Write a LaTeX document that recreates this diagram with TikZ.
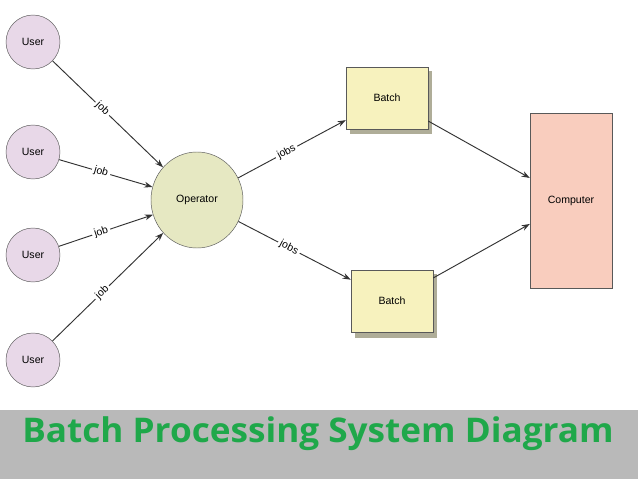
\documentclass[tikz,border=0pt]{standalone}
\usepackage{fontspec}
\setmainfont{Liberation Sans}
\newfontfamily\titlefont{Open Sans}
\usetikzlibrary{shapes.geometric,arrows.meta}
\definecolor{userc}{HTML}{E8D8E8}
\definecolor{opc}{HTML}{E6E8C2}
\definecolor{batchc}{HTML}{F7F2BE}
\definecolor{compc}{HTML}{F9CDBE}
\definecolor{titlec}{HTML}{1FA84A}
\begin{document}
\begin{tikzpicture}[x=0.03cm,y=-0.03cm,
 user/.style={circle,draw=gray!70!black,fill=userc,minimum size=54*0.03cm,inner sep=0,font=\small},
 box/.style={draw=gray!70!black,fill=#1,inner sep=0,font=\small},
 arr/.style={draw=black!80,-{Stealth[length=7pt,width=5pt]},thick},
 lab/.style={fill=white,sloped,inner sep=2pt,font=\small}]
\useasboundingbox (0,0) rectangle (638,479);
\fill[white] (0,0) rectangle (638,410);
\fill[gray!55] (0,410) rectangle (638,479);
\node[font=\titlefont\bfseries,text=titlec,xscale=3.0,yscale=2.9] (title) at (318,434) {Batch Processing System Diagram};
\node[user] (u1) at (33,42) {User};
\node[user] (u2) at (33,152) {User};
\node[user] (u3) at (33,255) {User};
\node[user] (u4) at (33,360) {User};
\node[ellipse,draw=gray!70!black,fill=opc,minimum width=92*0.03cm,minimum height=96*0.03cm,font=\small] (op) at (197,200) {Operator};
\fill[gray!60!batchc] (350,71) -- (432,71) -- (432,134) -- (350,134) -- cycle;
\node[box=batchc,minimum width=82*0.03cm,minimum height=62*0.03cm] (b1) at (387,98) {Batch};
\fill[gray!60!batchc] (355,274) -- (437,274) -- (437,338) -- (355,338) -- cycle;
\node[box=batchc,minimum width=82*0.03cm,minimum height=62*0.03cm] (b2) at (392,301) {Batch};
\node[box=compc,minimum width=82*0.03cm,minimum height=175*0.03cm] (c) at (571,201) {Computer};
\draw[arr] (u1) -- node[lab,pos=0.45]{job} (op);
\draw[arr] (u2) -- node[lab,pos=0.45]{job} (op);
\draw[arr] (u3) -- node[lab,pos=0.45]{job} (op);
\draw[arr] (u4) -- node[lab,pos=0.45]{job} (op);
\draw[arr] (op) -- node[lab,pos=0.45]{jobs} (b1);
\draw[arr] (op) -- node[lab,pos=0.45]{jobs} (b2);
\draw[arr] (b1) -- (c);
\draw[arr] (b2) -- (c);
\end{tikzpicture}
\end{document}
